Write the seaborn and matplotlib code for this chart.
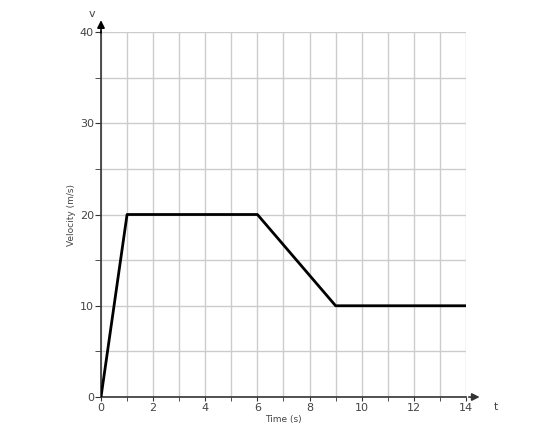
import numpy as np
import pandas as pd
import seaborn as sns
import matplotlib.pyplot as plt

# Dados do gráfico velocidade x tempo
tempo = [0, 1, 6, 9, 14]
velocidade = [0, 20, 20, 10, 10]
x_ticks = [0, 2, 4, 6, 8, 10, 12, 14]
y_ticks = [0, 10, 20, 30, 40]

df = pd.DataFrame({"Time (s)": tempo, "Velocity (m/s)": velocidade})

sns.set_style("white")
fig = plt.figure(figsize=(5.51, 4.36), dpi=100)
ax = fig.add_axes([0.1833, 0.0894, 0.6624, 0.8372])

sns.lineplot(data=df, x="Time (s)", y="Velocity (m/s)", color="black", linewidth=2, ax=ax, zorder=5)

ax.set_xlim(0, 14)
ax.set_ylim(0, 40)

# Grade
ax.set_xticks(np.arange(0, 15, 1), minor=True)
ax.set_yticks(np.arange(0, 41, 5), minor=True)
ax.set_xticks(x_ticks)
ax.set_yticks(y_ticks)
ax.grid(True, which="both", color="#cccccc", linewidth=1)
ax.set_axisbelow(True)

ax.tick_params(which="both", direction="out", length=4, color="#333333",
               labelsize=8, labelcolor="#444444", pad=1, bottom=True, left=True)
ax.tick_params(axis="x", which="both", length=3)

for s in ["top", "right"]:
    ax.spines[s].set_visible(False)
for s in ["left", "bottom"]:
    ax.spines[s].set_color("#333333")
    ax.spines[s].set_linewidth(1.2)

ax.set_xlabel("Time (s)", fontsize=6.5, color="#444444", labelpad=2)
ax.set_ylabel("Velocity (m/s)", fontsize=6.5, color="#444444", labelpad=3)

# Setas dos eixos
ax.annotate("", xy=(0, 1.04), xytext=(0, 0.99), xycoords="axes fraction",
            arrowprops=dict(arrowstyle="-|>", color="black", lw=1.2, mutation_scale=11),
            annotation_clip=False)
ax.annotate("", xy=(1.045, 0), xytext=(1.0, 0), xycoords="axes fraction",
            arrowprops=dict(arrowstyle="-|>", color="#333333", lw=1.2, mutation_scale=11),
            annotation_clip=False)
ax.text(-0.025, 1.035, "v", transform=ax.transAxes, fontsize=8, color="#444444",
        ha="center", va="bottom")
ax.text(1.082, -0.028, "t", transform=ax.transAxes, fontsize=8, color="#444444",
        ha="center", va="center")

fig.savefig("out.png", dpi=100)
